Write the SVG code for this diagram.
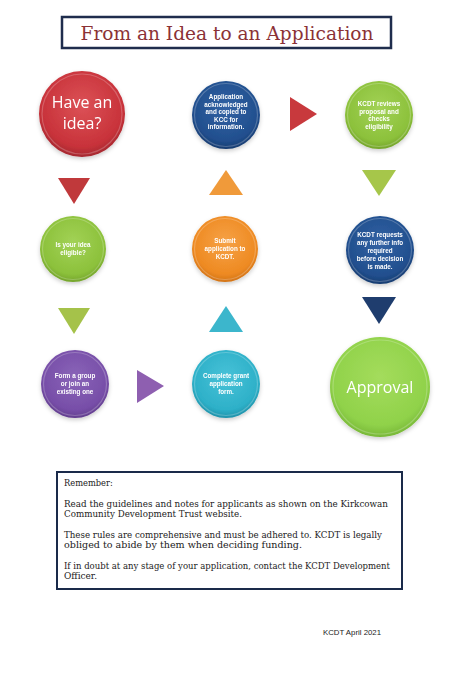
<svg xmlns="http://www.w3.org/2000/svg" width="474" height="676" viewBox="0 0 474 676">
<style>
.ct{font-family:"Liberation Sans",Arial,sans-serif;font-weight:bold;font-size:6.3px;fill:#fff;text-anchor:middle}
.big{font-family:"Open Sans","Liberation Sans",sans-serif;font-size:16px;fill:#fff;text-anchor:middle}
.rem{font-family:"DejaVu Serif","Liberation Serif",serif;font-size:8.3px;fill:#222}
.ring{fill:none;stroke:#fff;stroke-opacity:0.22;stroke-width:1.2}
</style>
<defs>
<filter id="sh" x="-20%" y="-20%" width="140%" height="150%"><feDropShadow dx="0" dy="2" stdDeviation="2" flood-color="#000" flood-opacity="0.2"/></filter>
<radialGradient id="gRed" cx="50%" cy="40%" r="60%"><stop offset="0" stop-color="#dc5257"/><stop offset="0.8" stop-color="#c8323a"/><stop offset="1" stop-color="#a52830"/></radialGradient>
<radialGradient id="gNavy" cx="50%" cy="40%" r="60%"><stop offset="0" stop-color="#3262a4"/><stop offset="0.8" stop-color="#214f8e"/><stop offset="1" stop-color="#183c70"/></radialGradient>
<radialGradient id="gGreen" cx="50%" cy="40%" r="60%"><stop offset="0" stop-color="#a2d256"/><stop offset="0.8" stop-color="#8cc13b"/><stop offset="1" stop-color="#74a42c"/></radialGradient>
<radialGradient id="gLime" cx="50%" cy="40%" r="60%"><stop offset="0" stop-color="#a4dc5c"/><stop offset="0.8" stop-color="#90d24a"/><stop offset="1" stop-color="#78b838"/></radialGradient>
<radialGradient id="gOrange" cx="50%" cy="40%" r="60%"><stop offset="0" stop-color="#f6a246"/><stop offset="0.8" stop-color="#ee8a22"/><stop offset="1" stop-color="#d27418"/></radialGradient>
<radialGradient id="gPurple" cx="50%" cy="40%" r="60%"><stop offset="0" stop-color="#8a64b8"/><stop offset="0.8" stop-color="#774ea8"/><stop offset="1" stop-color="#623d8e"/></radialGradient>
<radialGradient id="gTeal" cx="50%" cy="40%" r="60%"><stop offset="0" stop-color="#48c2d8"/><stop offset="0.8" stop-color="#2db0c8"/><stop offset="1" stop-color="#2092aa"/></radialGradient>
</defs>
<rect width="474" height="676" fill="#fff"/>
<g id="title">
<rect x="62" y="17" width="329" height="31" fill="#fff" stroke="#1f2d4d" stroke-width="2.5"/>
<text x="227" y="40" font-family="DejaVu Serif,'Liberation Serif',serif" font-size="19" fill="#8b3236" text-anchor="middle" textLength="293" lengthAdjust="spacingAndGlyphs">From an Idea to an Application</text>
</g>
<g id="connectors">
<polygon points="58,178 90,178 74,204" fill="#c0393b"/>
<polygon points="58,308 90,308 74,334" fill="#a5c24a"/>
<polygon points="137,370 137,403 164,386" fill="#8e5fb0"/>
<polygon points="209,332 243,332 226,306" fill="#3cb6cc"/>
<polygon points="209,195 243,195 226,170" fill="#f09a3a"/>
<polygon points="290,97 290,131 317,114" fill="#c8393d"/>
<polygon points="362,170 396,170 379,196" fill="#a6c64a"/>
<polygon points="362,297 396,297 379,324" fill="#1f3d6e"/>
</g>
<g id="n-idea" filter="url(#sh)"><circle cx="82" cy="114" r="43" fill="url(#gRed)"/><circle cx="82" cy="114" r="40" class="ring"/>
<text class="big" x="82" y="108">Have an</text><text class="big" x="82" y="129">idea?</text></g>
<g id="n-ack" filter="url(#sh)"><circle cx="226" cy="115" r="34" fill="url(#gNavy)"/><circle cx="226" cy="115" r="31.5" class="ring"/>
<text class="ct" x="226" y="99">Application</text><text class="ct" x="226" y="106.5">acknowledged</text><text class="ct" x="226" y="114">and copied to</text><text class="ct" x="226" y="121.5">KCC for</text><text class="ct" x="226" y="129">information.</text></g>
<g id="n-review" filter="url(#sh)"><circle cx="379" cy="115" r="34" fill="url(#gGreen)"/><circle cx="379" cy="115" r="31.5" class="ring"/>
<text class="ct" x="379" y="106">KCDT reviews</text><text class="ct" x="379" y="113.5">proposal and</text><text class="ct" x="379" y="121">checks</text><text class="ct" x="379" y="128.5">eligibility</text></g>
<g id="n-eligible" filter="url(#sh)"><circle cx="73" cy="249" r="33" fill="url(#gGreen)"/><circle cx="73" cy="249" r="30.5" class="ring"/>
<text class="ct" x="73" y="247">Is your idea</text><text class="ct" x="73" y="255">eligible?</text></g>
<g id="n-submit" filter="url(#sh)"><circle cx="225" cy="249" r="33" fill="url(#gOrange)"/><circle cx="225" cy="249" r="30.5" class="ring"/>
<text class="ct" x="225" y="243">Submit</text><text class="ct" x="225" y="251">application to</text><text class="ct" x="225" y="259">KCDT.</text></g>
<g id="n-requests" filter="url(#sh)"><circle cx="380" cy="250" r="34" fill="url(#gNavy)"/><circle cx="380" cy="250" r="31.5" class="ring"/>
<text class="ct" x="380" y="237">KCDT requests</text><text class="ct" x="380" y="245">any further info</text><text class="ct" x="380" y="253">required</text><text class="ct" x="380" y="261">before decision</text><text class="ct" x="380" y="269">is made.</text></g>
<g id="n-group" filter="url(#sh)"><circle cx="75" cy="384" r="34" fill="url(#gPurple)"/><circle cx="75" cy="384" r="31.5" class="ring"/>
<text class="ct" x="75" y="378">Form a group</text><text class="ct" x="75" y="386">or join an</text><text class="ct" x="75" y="394">existing one</text></g>
<g id="n-complete" filter="url(#sh)"><circle cx="226" cy="384" r="34" fill="url(#gTeal)"/><circle cx="226" cy="384" r="31.5" class="ring"/>
<text class="ct" x="226" y="378">Complete grant</text><text class="ct" x="226" y="386">application</text><text class="ct" x="226" y="394">form.</text></g>
<g id="n-approval" filter="url(#sh)"><circle cx="380" cy="387" r="50" fill="url(#gLime)"/><circle cx="380" cy="387" r="47" class="ring"/>
<text class="big" x="380" y="393" font-size="17">Approval</text></g>
<g id="remember">
<rect x="57" y="472" width="345" height="117" fill="#fff" stroke="#1a2a4a" stroke-width="2"/>
<text class="rem" x="64" y="486">Remember:</text>
<text class="rem" x="64" y="507" textLength="324" lengthAdjust="spacingAndGlyphs">Read the guidelines and notes for applicants as shown on the Kirkcowan</text>
<text class="rem" x="64" y="517" textLength="178" lengthAdjust="spacingAndGlyphs">Community Development Trust website.</text>
<text class="rem" x="64" y="538" textLength="318" lengthAdjust="spacingAndGlyphs">These rules are comprehensive and must be adhered to. KCDT is legally</text>
<text class="rem" x="64" y="548" textLength="238" lengthAdjust="spacingAndGlyphs">obliged to abide by them when deciding funding.</text>
<text class="rem" x="64" y="569" textLength="326" lengthAdjust="spacingAndGlyphs">If in doubt at any stage of your application, contact the KCDT Development</text>
<text class="rem" x="64" y="579" textLength="33" lengthAdjust="spacingAndGlyphs">Officer.</text>
</g>
<text id="footer" x="323" y="635" font-family="'Liberation Sans',Arial,sans-serif" font-size="7.5" fill="#222" textLength="58" lengthAdjust="spacingAndGlyphs">KCDT April 2021</text>
</svg>
